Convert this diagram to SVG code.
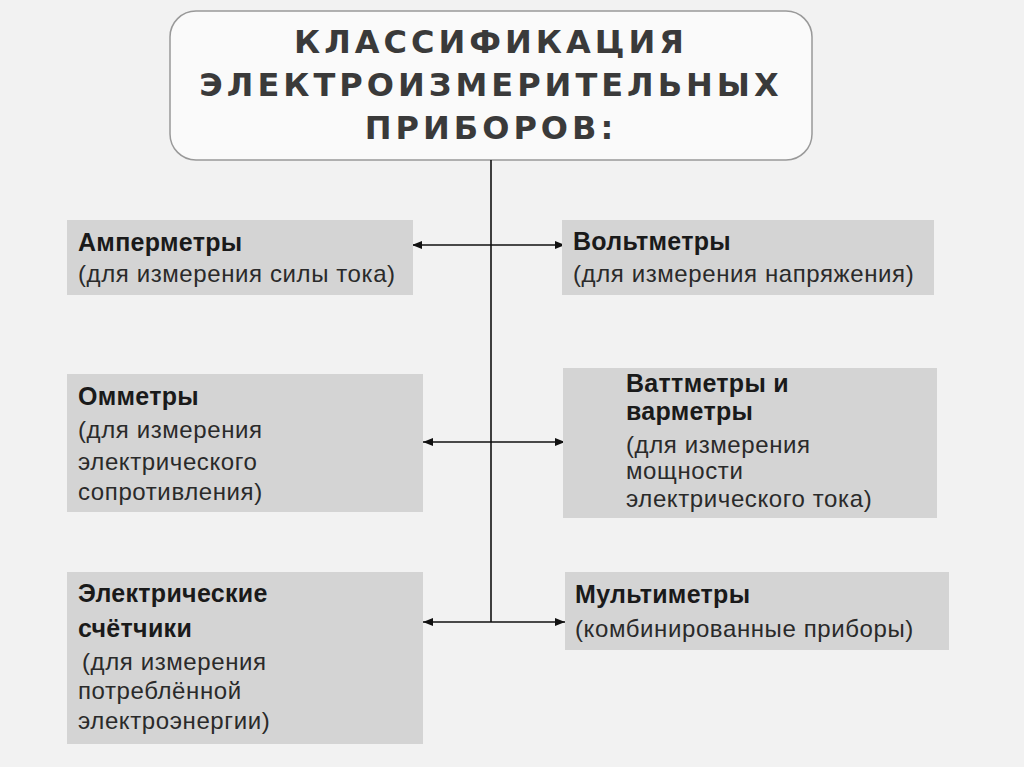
<svg xmlns="http://www.w3.org/2000/svg" width="1024" height="767" viewBox="0 0 1024 767">
<style>
.b{fill:#d4d4d4}
.t{font-family:"Liberation Sans",Arial,sans-serif;font-size:24px;fill:#2a2a2a;letter-spacing:0.6px}
.h{font-weight:bold;font-size:25px;fill:#1a1a1a;letter-spacing:0.3px}
.ti{font-family:"DejaVu Sans","Open Sans",sans-serif;font-weight:bold;font-size:32px;fill:#3a3a3a;letter-spacing:4px;text-anchor:middle}
.c{stroke:#111;stroke-width:1.6;fill:none}
</style>
<defs><marker id="a" markerWidth="10" markerHeight="8" refX="10" refY="4" orient="auto-start-reverse" markerUnits="userSpaceOnUse"><path d="M0,0L10,4L0,8z" fill="#111"/></marker></defs>
<rect width="1024" height="767" fill="#f2f2f2"/>
<g id="title"><rect x="170" y="11" width="642" height="149" rx="26" fill="#fafafa" stroke="#999" stroke-width="1.5"/>
<text class="ti" x="491" y="53">КЛАССИФИКАЦИЯ</text><text class="ti" x="491" y="96">ЭЛЕКТРОИЗМЕРИТЕЛЬНЫХ</text><text class="ti" x="491" y="139">ПРИБОРОВ:</text></g>
<g id="connectors">
<path class="c" d="M491,160V622"/>
<path class="c" d="M412,245H565" marker-start="url(#a)" marker-end="url(#a)"/>
<path class="c" d="M423,442H565" marker-start="url(#a)" marker-end="url(#a)"/>
<path class="c" d="M423,622H565" marker-start="url(#a)" marker-end="url(#a)"/>
</g>
<g id="n1"><rect class="b" x="67" y="220" width="346" height="75"/><text class="t h" x="78" y="251">Амперметры</text><text class="t" x="78" y="282">(для измерения силы тока)</text></g>
<g id="n2"><rect class="b" x="562" y="220" width="372" height="75"/><text class="t h" x="573" y="250">Вольтметры</text><text class="t" x="573" y="282">(для измерения напряжения)</text></g>
<g id="n3"><rect class="b" x="67" y="374" width="356" height="138"/><text class="t h" x="78" y="405">Омметры</text><text class="t" x="78" y="438">(для измерения</text><text class="t" x="78" y="470">электрического</text><text class="t" x="78" y="500">сопротивления)</text></g>
<g id="n4"><rect class="b" x="563" y="368" width="374" height="150"/><text class="t h" x="626" y="392">Ваттметры и</text><text class="t h" x="626" y="420">варметры</text><text class="t" x="626" y="453">(для измерения</text><text class="t" x="626" y="479">мощности</text><text class="t" x="626" y="507">электрического тока)</text></g>
<g id="n5"><rect class="b" x="67" y="572" width="356" height="172"/><text class="t h" x="78" y="602">Электрические</text><text class="t h" x="78" y="637">счётчики</text><text class="t" x="82" y="670">(для измерения</text><text class="t" x="78" y="699">потреблённой</text><text class="t" x="78" y="729">электроэнергии)</text></g>
<g id="n6"><rect class="b" x="565" y="572" width="384" height="78"/><text class="t h" x="575" y="603">Мультиметры</text><text class="t" x="575" y="637">(комбинированные приборы)</text></g>
</svg>
